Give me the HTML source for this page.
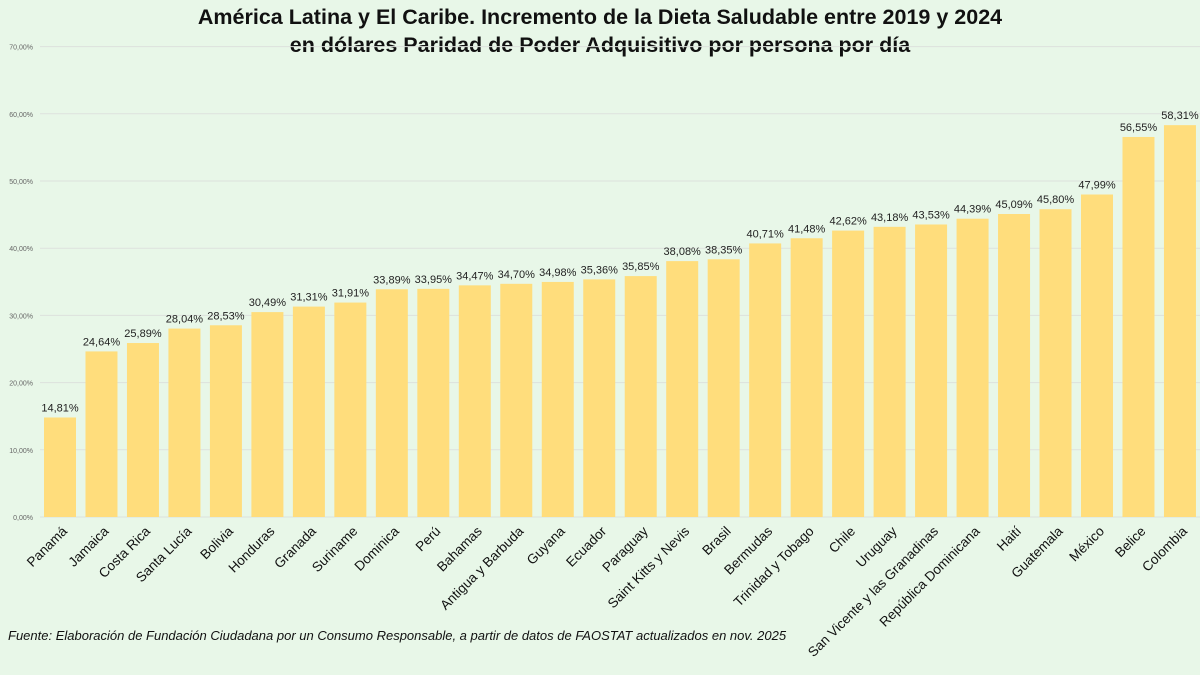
<!DOCTYPE html>
<html><head><meta charset="utf-8">
<style>
body{margin:0;background:#e8f7e8;font-family:"Liberation Sans",sans-serif;}
svg{display:block}
</style></head>
<body>
<svg id="chart" width="1200" height="675">
<rect width="1200" height="675" fill="#e8f7e8"/>
<text x="600" y="24" text-anchor="middle" font-size="21.5" font-weight="bold" fill="#111">América Latina y El Caribe. Incremento de la Dieta Saludable entre 2019 y 2024</text>
<text x="600" y="52" text-anchor="middle" font-size="21.5" font-weight="bold" fill="#111">en dólares Paridad de Poder Adquisitivo por persona por día</text>
<g id="grid"></g><g id="bars"></g><g id="xlabels"></g>
<text x="8" y="640" font-size="13" font-style="italic" fill="#111">Fuente: Elaboración de Fundación Ciudadana por un Consumo Responsable, a partir de datos de FAOSTAT actualizados en nov. 2025</text>
</svg>
<script>
const categories=["Panamá","Jamaica","Costa Rica","Santa Lucía","Bolivia","Honduras","Granada","Suriname","Dominica","Perú","Bahamas","Antigua y Barbuda","Guyana","Ecuador","Paraguay","Saint Kitts y Nevis","Brasil","Bermudas","Trinidad y Tobago","Chile","Uruguay","San Vicente y las Granadinas","República Dominicana","Haití","Guatemala","México","Belice","Colombia"];
const values=[14.81,24.64,25.89,28.04,28.53,30.49,31.31,31.91,33.89,33.95,34.47,34.70,34.98,35.36,35.85,38.08,38.35,40.71,41.48,42.62,43.18,43.53,44.39,45.09,45.80,47.99,56.55,58.31];
const yTicks=[0,10,20,30,40,50,60,70];
const NS="http://www.w3.org/2000/svg";
const y0=517,pxPer=6.72,x0=44,step=41.48,bw=32;
const y=v=>y0-v*pxPer;
const x=i=>x0+i*step;
const fmt=v=>v.toFixed(2).replace('.',',')+'%';
function mk(t,a,p){const e=document.createElementNS(NS,t);for(const k in a)e.setAttribute(k,a[k]);p.appendChild(e);return e;}
const grid=document.getElementById('grid'),bars=document.getElementById('bars'),xl=document.getElementById('xlabels');
yTicks.forEach(t=>{
  const l=mk('line',{x1:40,x2:1200,y1:y(t),y2:y(t),stroke:'#dde2dd','stroke-width':1},grid);
  
  
  const tx=mk('text',{x:33,y:y(t)+3,'text-anchor':'end','font-size':7,fill:'#666'},grid);
  tx.textContent=fmt(t);
  
  
});
categories.forEach((c,i)=>{
  const v=values[i];
  const r=mk('rect',{x:x(i),y:y(v),width:bw,height:y0-y(v),fill:'#ffdd7c'},bars);
  
  
  const t=mk('text',{x:x(i)+bw/2,y:y(v)-6,'text-anchor':'middle','font-size':11,fill:'#222'},bars);
  t.textContent=fmt(v);
  
  
  const cx=x(i)+bw/2+8,cy=y0+15;
  const L=mk('text',{x:cx,y:cy,'text-anchor':'end','font-size':13.5,fill:'#111',transform:`rotate(-45 ${cx} ${cy})`},xl);
  L.textContent=c;
  
  
});
</script>
</body></html>
